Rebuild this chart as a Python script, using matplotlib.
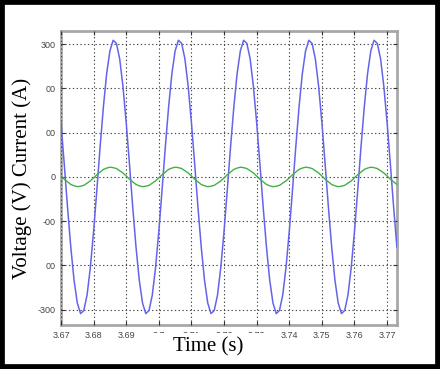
import numpy as np
import matplotlib
matplotlib.use("Agg")
import matplotlib.pyplot as plt
from matplotlib.patches import Rectangle

# sampled every 1 ms starting at t = 3.670 s
T0 = 3.670
DT = 0.001

voltage = [
    123, 29, -68, -158, -233, -285, -309, -302, -267, -205,
    -123, -29, 68, 158, 233, 285, 309, 302, 267, 205,
    123, 29, -68, -158, -233, -285, -309, -302, -267, -205,
    -123, -29, 68, 158, 233, 285, 309, 302, 267, 205,
    123, 29, -68, -158, -233, -285, -309, -302, -267, -205,
    -123, -29, 68, 158, 233, 285, 309, 302, 267, 205,
    123, 29, -68, -158, -233, -285, -309, -302, -267, -205,
    -123, -29, 68, 158, 233, 285, 309, 302, 267, 205,
    123, 29, -68, -158, -233, -285, -309, -302, -267, -205,
    -123, -29, 68, 158, 233, 285, 309, 302, 267, 205,
    123, 29, -68, -158,
]
current = [
    2, -5, -11, -17, -20, -22, -21, -19, -14, -9,
    -2, 5, 11, 17, 20, 22, 21, 19, 14, 9,
    2, -5, -11, -17, -20, -22, -21, -19, -14, -9,
    -2, 5, 11, 17, 20, 22, 21, 19, 14, 9,
    2, -5, -11, -17, -20, -22, -21, -19, -14, -9,
    -2, 5, 11, 17, 20, 22, 21, 19, 14, 9,
    2, -5, -11, -17, -20, -22, -21, -19, -14, -9,
    -2, 5, 11, 17, 20, 22, 21, 19, 14, 9,
    2, -5, -11, -17, -20, -22, -21, -19, -14, -9,
    -2, 5, 11, 17, 20, 22, 21, 19, 14, 9,
    2, -5, -11, -17,
]

x_ticks = [3.67, 3.68, 3.69, 3.70, 3.71, 3.72, 3.73, 3.74, 3.75, 3.76, 3.77]
x_tick_labels = ["3.67", "3.68", "3.69", "3.7", "3.71", "3.72", "3.73", "3.74", "3.75", "3.76", "3.77"]
y_ticks = [300, 200, 100, 0, -100, -200, -300]
y_tick_labels = ["300", "00", "00", "0", "-00", "00", "-300"]

t = T0 + DT * np.arange(len(voltage))

fig = plt.figure(figsize=(4.40, 3.69), dpi=100)
ax = fig.add_axes([0.1386, 0.119, 0.7634, 0.797])

ax.plot(t, voltage, color="#6464ea", lw=1.1, zorder=3)
ax.plot(t, current, color="#44b044", lw=1.0, zorder=3)

ax.set_xlim(3.67, 3.773)
ax.set_ylim(-335, 330)
ax.set_xticks(x_ticks)
ax.set_xticklabels(x_tick_labels)
ax.set_yticks(y_ticks)
ax.set_yticklabels(y_tick_labels)
ax.grid(True, color="#444444", linestyle=(0, (1.2, 2.2)), lw=0.8)
ax.set_axisbelow(False)

for s in ax.spines.values():
    s.set_color("#a8a8a8")
    s.set_linewidth(2.0)
ax.tick_params(direction="in", length=3, width=0.8, color="#333333",
               top=True, right=True, labelsize=6.5, labelcolor="#444444", pad=4)
for lbl in ax.get_xticklabels() + ax.get_yticklabels():
    lbl.set_family("Liberation Sans")

ax.set_ylabel("Voltage (V) Current (A)", family="Liberation Serif", fontsize=15, labelpad=4)

# white box under the x label hides most of the middle tick labels, as in the original
fig.patches.append(Rectangle((145 / 440, 1 - 362 / 369), 125 / 440, 29 / 369,
                             transform=fig.transFigure, facecolor="white",
                             edgecolor="none", zorder=5))
fig.text(208 / 440, 1 - 347 / 369, "Time (s)", family="Liberation Serif",
         fontsize=15, ha="center", va="center", zorder=6)

fig.patches.append(Rectangle((0, 0), 1, 1, transform=fig.transFigure,
                             facecolor="none", edgecolor="black", lw=7, zorder=10))

fig.savefig("out.png", dpi=100)
